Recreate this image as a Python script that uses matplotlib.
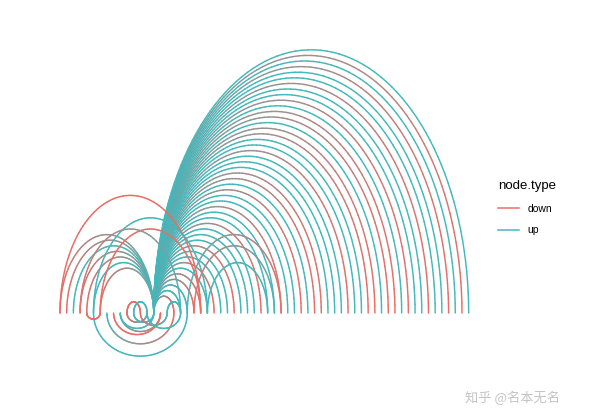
import numpy as np
import matplotlib
matplotlib.use('Agg')
import matplotlib.pyplot as plt
from matplotlib.collections import LineCollection
from matplotlib.lines import Line2D
from matplotlib.colors import to_rgb

# node types along the line (0 .. 61)
node_type = ['down', 'down', 'up', 'down', 'down', 'up', 'down', 'up', 'down', 'up',
             'down', 'up', 'down', 'up', 'up', 'down', 'up', 'down', 'up', 'up',
             'down', 'down', 'up', 'down', 'up', 'up', 'down', 'up', 'up', 'up',
             'down', 'up', 'up', 'down', 'up', 'up', 'down', 'up', 'down', 'down',
             'up', 'up', 'up', 'down', 'up', 'up', 'down', 'down', 'up', 'down',
             'down', 'up', 'down', 'up', 'up', 'down', 'up', 'up', 'down', 'up',
             'down', 'up']

hub = 14
hub_targets = list(range(17, 62))
left_sources = [0, 1, 2, 3, 4, 5, 6]
extra_upper = [(0, 21), (5, 22), (6, 21), (3, 18),
               (19, 33), (20, 32), (22, 31), (10, 12), (11, 13), (16, 18)]
lower_edges = [(5, 19), (7, 17), (8, 15), (9, 15), (9, 14), (10, 13),
               (11, 14), (12, 16), (13, 18), (4, 6)]

colours = {'down': '#EC6C64', 'up': '#45B8BC'}


def arc(a, b, above=True, depth=1.0, n=80):
    c = (a + b) / 2
    r = abs(b - a) / 2
    th = np.linspace(np.pi, 0, n)
    x = c + r * np.cos(th)
    y = r * np.sin(th) * depth
    if not above:
        y = -y
    return x, y


def draw_edge(ax, a, b, above=True, depth=1.0):
    x, y = arc(a, b, above, depth)
    pts = np.column_stack([x, y]).reshape(-1, 1, 2)
    segs = np.concatenate([pts[:-1], pts[1:]], axis=1)
    c0 = np.array(to_rgb(colours[node_type[a]]))
    c1 = np.array(to_rgb(colours[node_type[b]]))
    t = np.linspace(0, 1, len(segs))[:, None]
    cols = c0 * (1 - t) + c1 * t
    lc = LineCollection(segs, colors=cols, linewidths=1.05, capstyle='round')
    lc.set_snap(False)
    ax.add_collection(lc)


fig = plt.figure(figsize=(6, 4.2), dpi=100)
ax = fig.add_axes([50 / 600, 55 / 420, 430 / 600, 325 / 420])

edges = [(hub, t) for t in hub_targets] + [(s, hub) for s in left_sources] + extra_upper
for a, b in edges:
    draw_edge(ax, a, b, above=True)
for a, b in lower_edges:
    draw_edge(ax, a, b, above=False, depth=0.55)

ax.set_xlim(-1.49, 62.69)
ax.set_ylim(-4.643, 24.375)
ax.axis('off')

handles = [Line2D([0], [0], color=colours['down'], lw=1.1),
           Line2D([0], [0], color=colours['up'], lw=1.1)]
leg = fig.legend(handles, ['down', 'up'], title='node.type', loc='center left',
                 bbox_to_anchor=(0.815, 0.505), frameon=False,
                 prop={'family': 'Liberation Sans', 'size': 7.5},
                 handlelength=2.0, labelspacing=1.1)
leg.get_title().set_fontfamily('Liberation Sans')
leg.get_title().set_fontsize(9.5)
leg._legend_box.align = 'left'

fig.text(0.933, 0.052, '知乎 @名本无名', ha='right', va='center', fontsize=9.5,
         color='#c4c4c4', family=['Noto Sans CJK SC', 'DejaVu Sans'])

fig.savefig('out.png', dpi=100)
